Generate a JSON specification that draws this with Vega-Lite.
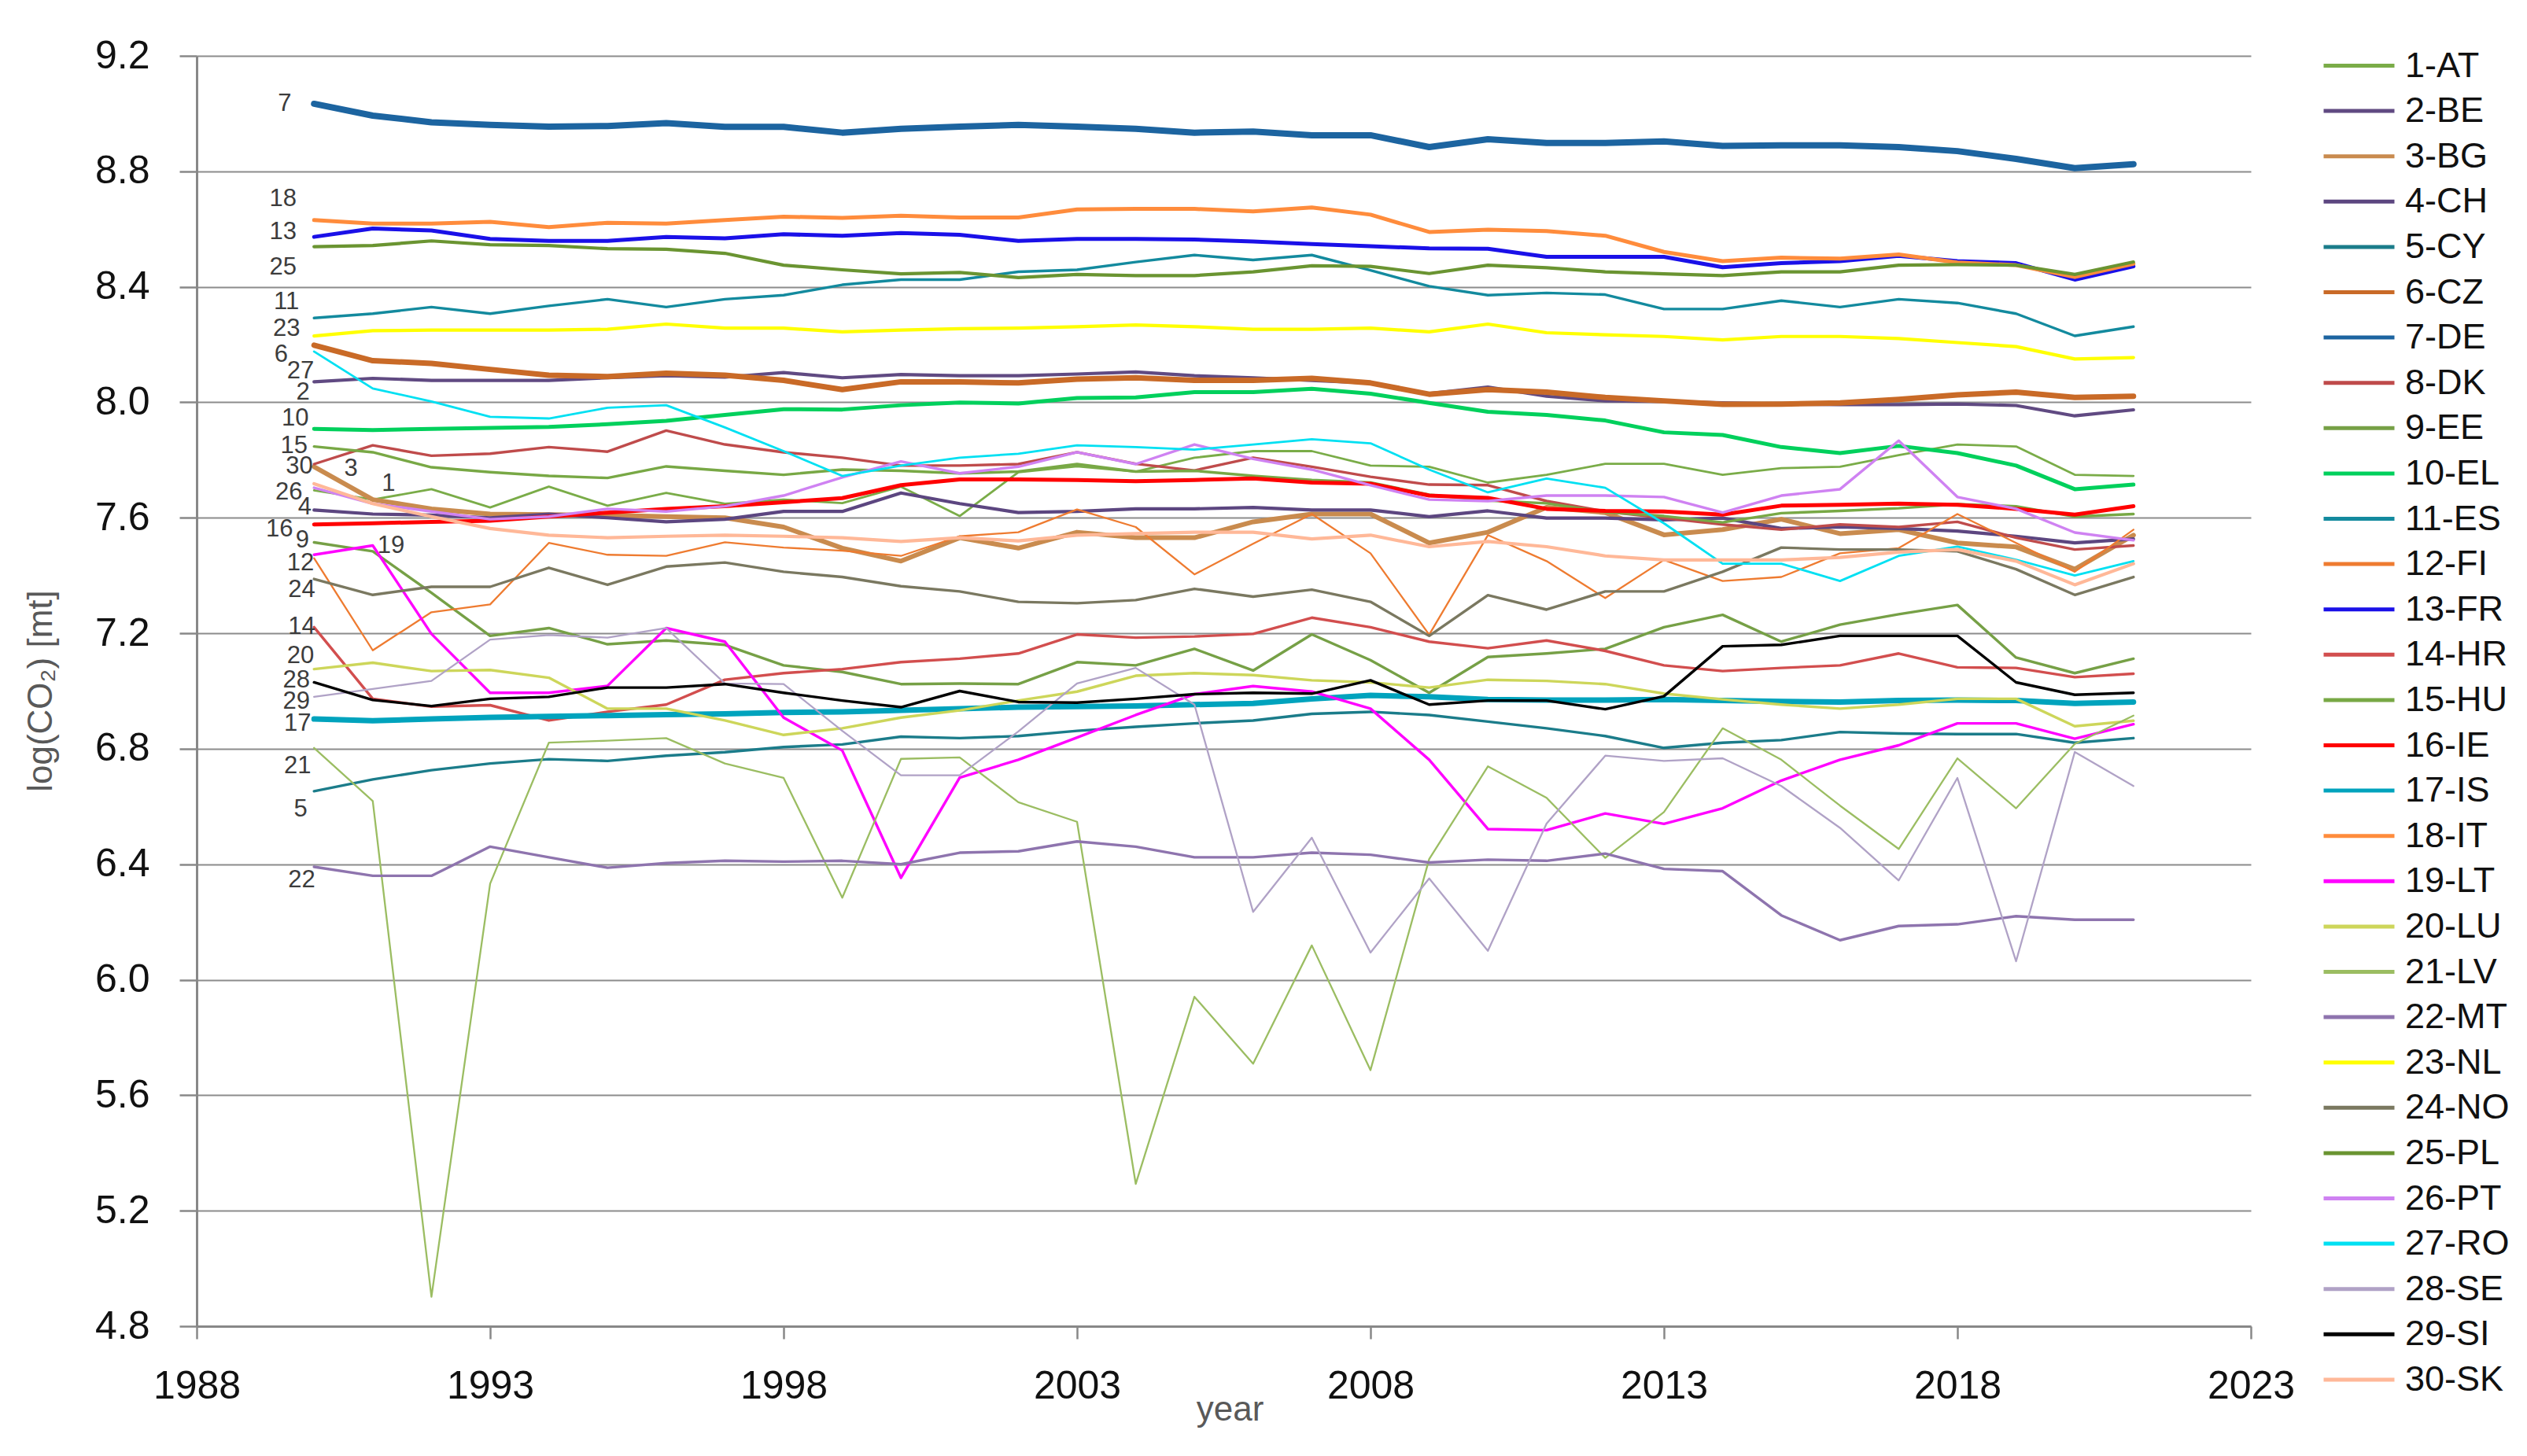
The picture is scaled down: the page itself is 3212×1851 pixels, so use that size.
{
"$schema":"https://vega.github.io/schema/vega-lite/v6.json",
"width":2611,"height":1615,
"autosize":{"type":"none"},
"padding":{"left":250,"top":71,"right":351,"bottom":165},
"background":"white",
"config":{"view":{"stroke":null}},
"layer":[
{
"data":{"values":[
{"s":"1-AT","yr":1990,"v":7.695},{"s":"1-AT","yr":1991,"v":7.663},{"s":"1-AT","yr":1992,"v":7.699},{"s":"1-AT","yr":1993,"v":7.636},{"s":"1-AT","yr":1994,"v":7.708},{"s":"1-AT","yr":1995,"v":7.642},{"s":"1-AT","yr":1996,"v":7.686},{"s":"1-AT","yr":1997,"v":7.649},{"s":"1-AT","yr":1998,"v":7.663},{"s":"1-AT","yr":1999,"v":7.651},{"s":"1-AT","yr":2000,"v":7.708},{"s":"1-AT","yr":2001,"v":7.606},{"s":"1-AT","yr":2002,"v":7.758},{"s":"1-AT","yr":2003,"v":7.778},{"s":"1-AT","yr":2004,"v":7.760},{"s":"1-AT","yr":2005,"v":7.808},{"s":"1-AT","yr":2006,"v":7.831},{"s":"1-AT","yr":2007,"v":7.831},{"s":"1-AT","yr":2008,"v":7.781},{"s":"1-AT","yr":2009,"v":7.777},{"s":"1-AT","yr":2010,"v":7.722},{"s":"1-AT","yr":2011,"v":7.749},{"s":"1-AT","yr":2012,"v":7.787},{"s":"1-AT","yr":2013,"v":7.787},{"s":"1-AT","yr":2014,"v":7.749},{"s":"1-AT","yr":2015,"v":7.772},{"s":"1-AT","yr":2016,"v":7.777},{"s":"1-AT","yr":2017,"v":7.817},{"s":"1-AT","yr":2018,"v":7.854},{"s":"1-AT","yr":2019,"v":7.847},{"s":"1-AT","yr":2020,"v":7.749},{"s":"1-AT","yr":2021,"v":7.745},
{"s":"2-BE","yr":1990,"v":8.071},{"s":"2-BE","yr":1991,"v":8.083},{"s":"2-BE","yr":1992,"v":8.076},{"s":"2-BE","yr":1993,"v":8.076},{"s":"2-BE","yr":1994,"v":8.076},{"s":"2-BE","yr":1995,"v":8.085},{"s":"2-BE","yr":1996,"v":8.092},{"s":"2-BE","yr":1997,"v":8.087},{"s":"2-BE","yr":1998,"v":8.103},{"s":"2-BE","yr":1999,"v":8.085},{"s":"2-BE","yr":2000,"v":8.096},{"s":"2-BE","yr":2001,"v":8.092},{"s":"2-BE","yr":2002,"v":8.092},{"s":"2-BE","yr":2003,"v":8.098},{"s":"2-BE","yr":2004,"v":8.105},{"s":"2-BE","yr":2005,"v":8.092},{"s":"2-BE","yr":2006,"v":8.085},{"s":"2-BE","yr":2007,"v":8.076},{"s":"2-BE","yr":2008,"v":8.067},{"s":"2-BE","yr":2009,"v":8.030},{"s":"2-BE","yr":2010,"v":8.053},{"s":"2-BE","yr":2011,"v":8.021},{"s":"2-BE","yr":2012,"v":8.005},{"s":"2-BE","yr":2013,"v":8.003},{"s":"2-BE","yr":2014,"v":7.998},{"s":"2-BE","yr":2015,"v":7.994},{"s":"2-BE","yr":2016,"v":7.992},{"s":"2-BE","yr":2017,"v":7.992},{"s":"2-BE","yr":2018,"v":7.994},{"s":"2-BE","yr":2019,"v":7.989},{"s":"2-BE","yr":2020,"v":7.953},{"s":"2-BE","yr":2021,"v":7.974},
{"s":"3-BG","yr":1990,"v":7.777},{"s":"3-BG","yr":1991,"v":7.663},{"s":"3-BG","yr":1992,"v":7.631},{"s":"3-BG","yr":1993,"v":7.613},{"s":"3-BG","yr":1994,"v":7.611},{"s":"3-BG","yr":1995,"v":7.609},{"s":"3-BG","yr":1996,"v":7.604},{"s":"3-BG","yr":1997,"v":7.600},{"s":"3-BG","yr":1998,"v":7.568},{"s":"3-BG","yr":1999,"v":7.495},{"s":"3-BG","yr":2000,"v":7.450},{"s":"3-BG","yr":2001,"v":7.531},{"s":"3-BG","yr":2002,"v":7.495},{"s":"3-BG","yr":2003,"v":7.550},{"s":"3-BG","yr":2004,"v":7.531},{"s":"3-BG","yr":2005,"v":7.531},{"s":"3-BG","yr":2006,"v":7.586},{"s":"3-BG","yr":2007,"v":7.613},{"s":"3-BG","yr":2008,"v":7.613},{"s":"3-BG","yr":2009,"v":7.513},{"s":"3-BG","yr":2010,"v":7.550},{"s":"3-BG","yr":2011,"v":7.636},{"s":"3-BG","yr":2012,"v":7.618},{"s":"3-BG","yr":2013,"v":7.541},{"s":"3-BG","yr":2014,"v":7.559},{"s":"3-BG","yr":2015,"v":7.595},{"s":"3-BG","yr":2016,"v":7.545},{"s":"3-BG","yr":2017,"v":7.559},{"s":"3-BG","yr":2018,"v":7.513},{"s":"3-BG","yr":2019,"v":7.499},{"s":"3-BG","yr":2020,"v":7.422},{"s":"3-BG","yr":2021,"v":7.540},
{"s":"4-CH","yr":1990,"v":7.627},{"s":"4-CH","yr":1991,"v":7.613},{"s":"4-CH","yr":1992,"v":7.609},{"s":"4-CH","yr":1993,"v":7.600},{"s":"4-CH","yr":1994,"v":7.613},{"s":"4-CH","yr":1995,"v":7.600},{"s":"4-CH","yr":1996,"v":7.586},{"s":"4-CH","yr":1997,"v":7.595},{"s":"4-CH","yr":1998,"v":7.622},{"s":"4-CH","yr":1999,"v":7.622},{"s":"4-CH","yr":2000,"v":7.686},{"s":"4-CH","yr":2001,"v":7.649},{"s":"4-CH","yr":2002,"v":7.618},{"s":"4-CH","yr":2003,"v":7.622},{"s":"4-CH","yr":2004,"v":7.631},{"s":"4-CH","yr":2005,"v":7.631},{"s":"4-CH","yr":2006,"v":7.636},{"s":"4-CH","yr":2007,"v":7.627},{"s":"4-CH","yr":2008,"v":7.627},{"s":"4-CH","yr":2009,"v":7.604},{"s":"4-CH","yr":2010,"v":7.624},{"s":"4-CH","yr":2011,"v":7.599},{"s":"4-CH","yr":2012,"v":7.599},{"s":"4-CH","yr":2013,"v":7.593},{"s":"4-CH","yr":2014,"v":7.599},{"s":"4-CH","yr":2015,"v":7.563},{"s":"4-CH","yr":2016,"v":7.568},{"s":"4-CH","yr":2017,"v":7.563},{"s":"4-CH","yr":2018,"v":7.554},{"s":"4-CH","yr":2019,"v":7.536},{"s":"4-CH","yr":2020,"v":7.513},{"s":"4-CH","yr":2021,"v":7.527},
{"s":"5-CY","yr":1990,"v":6.653},{"s":"5-CY","yr":1991,"v":6.694},{"s":"5-CY","yr":1992,"v":6.726},{"s":"5-CY","yr":1993,"v":6.749},{"s":"5-CY","yr":1994,"v":6.764},{"s":"5-CY","yr":1995,"v":6.758},{"s":"5-CY","yr":1996,"v":6.776},{"s":"5-CY","yr":1997,"v":6.788},{"s":"5-CY","yr":1998,"v":6.806},{"s":"5-CY","yr":1999,"v":6.815},{"s":"5-CY","yr":2000,"v":6.842},{"s":"5-CY","yr":2001,"v":6.837},{"s":"5-CY","yr":2002,"v":6.844},{"s":"5-CY","yr":2003,"v":6.862},{"s":"5-CY","yr":2004,"v":6.876},{"s":"5-CY","yr":2005,"v":6.888},{"s":"5-CY","yr":2006,"v":6.898},{"s":"5-CY","yr":2007,"v":6.921},{"s":"5-CY","yr":2008,"v":6.928},{"s":"5-CY","yr":2009,"v":6.917},{"s":"5-CY","yr":2010,"v":6.894},{"s":"5-CY","yr":2011,"v":6.871},{"s":"5-CY","yr":2012,"v":6.844},{"s":"5-CY","yr":2013,"v":6.803},{"s":"5-CY","yr":2014,"v":6.821},{"s":"5-CY","yr":2015,"v":6.830},{"s":"5-CY","yr":2016,"v":6.858},{"s":"5-CY","yr":2017,"v":6.853},{"s":"5-CY","yr":2018,"v":6.851},{"s":"5-CY","yr":2019,"v":6.851},{"s":"5-CY","yr":2020,"v":6.821},{"s":"5-CY","yr":2021,"v":6.837},
{"s":"6-CZ","yr":1990,"v":8.198},{"s":"6-CZ","yr":1991,"v":8.144},{"s":"6-CZ","yr":1992,"v":8.135},{"s":"6-CZ","yr":1993,"v":8.114},{"s":"6-CZ","yr":1994,"v":8.094},{"s":"6-CZ","yr":1995,"v":8.089},{"s":"6-CZ","yr":1996,"v":8.101},{"s":"6-CZ","yr":1997,"v":8.094},{"s":"6-CZ","yr":1998,"v":8.076},{"s":"6-CZ","yr":1999,"v":8.044},{"s":"6-CZ","yr":2000,"v":8.071},{"s":"6-CZ","yr":2001,"v":8.071},{"s":"6-CZ","yr":2002,"v":8.067},{"s":"6-CZ","yr":2003,"v":8.080},{"s":"6-CZ","yr":2004,"v":8.085},{"s":"6-CZ","yr":2005,"v":8.076},{"s":"6-CZ","yr":2006,"v":8.076},{"s":"6-CZ","yr":2007,"v":8.083},{"s":"6-CZ","yr":2008,"v":8.067},{"s":"6-CZ","yr":2009,"v":8.028},{"s":"6-CZ","yr":2010,"v":8.044},{"s":"6-CZ","yr":2011,"v":8.035},{"s":"6-CZ","yr":2012,"v":8.017},{"s":"6-CZ","yr":2013,"v":8.005},{"s":"6-CZ","yr":2014,"v":7.993},{"s":"6-CZ","yr":2015,"v":7.994},{"s":"6-CZ","yr":2016,"v":7.998},{"s":"6-CZ","yr":2017,"v":8.010},{"s":"6-CZ","yr":2018,"v":8.026},{"s":"6-CZ","yr":2019,"v":8.035},{"s":"6-CZ","yr":2020,"v":8.017},{"s":"6-CZ","yr":2021,"v":8.021},
{"s":"7-DE","yr":1990,"v":9.034},{"s":"7-DE","yr":1991,"v":8.993},{"s":"7-DE","yr":1992,"v":8.970},{"s":"7-DE","yr":1993,"v":8.961},{"s":"7-DE","yr":1994,"v":8.955},{"s":"7-DE","yr":1995,"v":8.957},{"s":"7-DE","yr":1996,"v":8.967},{"s":"7-DE","yr":1997,"v":8.954},{"s":"7-DE","yr":1998,"v":8.954},{"s":"7-DE","yr":1999,"v":8.934},{"s":"7-DE","yr":2000,"v":8.947},{"s":"7-DE","yr":2001,"v":8.955},{"s":"7-DE","yr":2002,"v":8.961},{"s":"7-DE","yr":2003,"v":8.955},{"s":"7-DE","yr":2004,"v":8.947},{"s":"7-DE","yr":2005,"v":8.934},{"s":"7-DE","yr":2006,"v":8.938},{"s":"7-DE","yr":2007,"v":8.925},{"s":"7-DE","yr":2008,"v":8.925},{"s":"7-DE","yr":2009,"v":8.884},{"s":"7-DE","yr":2010,"v":8.911},{"s":"7-DE","yr":2011,"v":8.898},{"s":"7-DE","yr":2012,"v":8.898},{"s":"7-DE","yr":2013,"v":8.904},{"s":"7-DE","yr":2014,"v":8.888},{"s":"7-DE","yr":2015,"v":8.890},{"s":"7-DE","yr":2016,"v":8.890},{"s":"7-DE","yr":2017,"v":8.884},{"s":"7-DE","yr":2018,"v":8.870},{"s":"7-DE","yr":2019,"v":8.843},{"s":"7-DE","yr":2020,"v":8.811},{"s":"7-DE","yr":2021,"v":8.825},
{"s":"8-DK","yr":1990,"v":7.786},{"s":"8-DK","yr":1991,"v":7.851},{"s":"8-DK","yr":1992,"v":7.815},{"s":"8-DK","yr":1993,"v":7.822},{"s":"8-DK","yr":1994,"v":7.845},{"s":"8-DK","yr":1995,"v":7.829},{"s":"8-DK","yr":1996,"v":7.902},{"s":"8-DK","yr":1997,"v":7.854},{"s":"8-DK","yr":1998,"v":7.827},{"s":"8-DK","yr":1999,"v":7.808},{"s":"8-DK","yr":2000,"v":7.781},{"s":"8-DK","yr":2001,"v":7.781},{"s":"8-DK","yr":2002,"v":7.786},{"s":"8-DK","yr":2003,"v":7.827},{"s":"8-DK","yr":2004,"v":7.787},{"s":"8-DK","yr":2005,"v":7.764},{"s":"8-DK","yr":2006,"v":7.808},{"s":"8-DK","yr":2007,"v":7.777},{"s":"8-DK","yr":2008,"v":7.742},{"s":"8-DK","yr":2009,"v":7.715},{"s":"8-DK","yr":2010,"v":7.713},{"s":"8-DK","yr":2011,"v":7.658},{"s":"8-DK","yr":2012,"v":7.622},{"s":"8-DK","yr":2013,"v":7.599},{"s":"8-DK","yr":2014,"v":7.577},{"s":"8-DK","yr":2015,"v":7.559},{"s":"8-DK","yr":2016,"v":7.577},{"s":"8-DK","yr":2017,"v":7.568},{"s":"8-DK","yr":2018,"v":7.586},{"s":"8-DK","yr":2019,"v":7.531},{"s":"8-DK","yr":2020,"v":7.490},{"s":"8-DK","yr":2021,"v":7.504},
{"s":"9-EE","yr":1990,"v":7.515},{"s":"9-EE","yr":1991,"v":7.484},{"s":"9-EE","yr":1992,"v":7.340},{"s":"9-EE","yr":1993,"v":7.191},{"s":"9-EE","yr":1994,"v":7.218},{"s":"9-EE","yr":1995,"v":7.162},{"s":"9-EE","yr":1996,"v":7.175},{"s":"9-EE","yr":1997,"v":7.160},{"s":"9-EE","yr":1998,"v":7.089},{"s":"9-EE","yr":1999,"v":7.066},{"s":"9-EE","yr":2000,"v":7.024},{"s":"9-EE","yr":2001,"v":7.026},{"s":"9-EE","yr":2002,"v":7.024},{"s":"9-EE","yr":2003,"v":7.100},{"s":"9-EE","yr":2004,"v":7.089},{"s":"9-EE","yr":2005,"v":7.146},{"s":"9-EE","yr":2006,"v":7.071},{"s":"9-EE","yr":2007,"v":7.196},{"s":"9-EE","yr":2008,"v":7.107},{"s":"9-EE","yr":2009,"v":6.994},{"s":"9-EE","yr":2010,"v":7.118},{"s":"9-EE","yr":2011,"v":7.130},{"s":"9-EE","yr":2012,"v":7.146},{"s":"9-EE","yr":2013,"v":7.221},{"s":"9-EE","yr":2014,"v":7.264},{"s":"9-EE","yr":2015,"v":7.171},{"s":"9-EE","yr":2016,"v":7.230},{"s":"9-EE","yr":2017,"v":7.266},{"s":"9-EE","yr":2018,"v":7.298},{"s":"9-EE","yr":2019,"v":7.116},{"s":"9-EE","yr":2020,"v":7.062},{"s":"9-EE","yr":2021,"v":7.112},
{"s":"10-EL","yr":1990,"v":7.908},{"s":"10-EL","yr":1991,"v":7.904},{"s":"10-EL","yr":1992,"v":7.908},{"s":"10-EL","yr":1993,"v":7.911},{"s":"10-EL","yr":1994,"v":7.915},{"s":"10-EL","yr":1995,"v":7.924},{"s":"10-EL","yr":1996,"v":7.936},{"s":"10-EL","yr":1997,"v":7.956},{"s":"10-EL","yr":1998,"v":7.976},{"s":"10-EL","yr":1999,"v":7.975},{"s":"10-EL","yr":2000,"v":7.990},{"s":"10-EL","yr":2001,"v":7.999},{"s":"10-EL","yr":2002,"v":7.996},{"s":"10-EL","yr":2003,"v":8.015},{"s":"10-EL","yr":2004,"v":8.017},{"s":"10-EL","yr":2005,"v":8.035},{"s":"10-EL","yr":2006,"v":8.035},{"s":"10-EL","yr":2007,"v":8.047},{"s":"10-EL","yr":2008,"v":8.030},{"s":"10-EL","yr":2009,"v":7.998},{"s":"10-EL","yr":2010,"v":7.967},{"s":"10-EL","yr":2011,"v":7.956},{"s":"10-EL","yr":2012,"v":7.937},{"s":"10-EL","yr":2013,"v":7.896},{"s":"10-EL","yr":2014,"v":7.887},{"s":"10-EL","yr":2015,"v":7.845},{"s":"10-EL","yr":2016,"v":7.824},{"s":"10-EL","yr":2017,"v":7.849},{"s":"10-EL","yr":2018,"v":7.824},{"s":"10-EL","yr":2019,"v":7.781},{"s":"10-EL","yr":2020,"v":7.699},{"s":"10-EL","yr":2021,"v":7.715},
{"s":"11-ES","yr":1990,"v":8.292},{"s":"11-ES","yr":1991,"v":8.307},{"s":"11-ES","yr":1992,"v":8.330},{"s":"11-ES","yr":1993,"v":8.307},{"s":"11-ES","yr":1994,"v":8.334},{"s":"11-ES","yr":1995,"v":8.357},{"s":"11-ES","yr":1996,"v":8.330},{"s":"11-ES","yr":1997,"v":8.357},{"s":"11-ES","yr":1998,"v":8.371},{"s":"11-ES","yr":1999,"v":8.407},{"s":"11-ES","yr":2000,"v":8.425},{"s":"11-ES","yr":2001,"v":8.425},{"s":"11-ES","yr":2002,"v":8.452},{"s":"11-ES","yr":2003,"v":8.459},{"s":"11-ES","yr":2004,"v":8.486},{"s":"11-ES","yr":2005,"v":8.510},{"s":"11-ES","yr":2006,"v":8.493},{"s":"11-ES","yr":2007,"v":8.510},{"s":"11-ES","yr":2008,"v":8.457},{"s":"11-ES","yr":2009,"v":8.402},{"s":"11-ES","yr":2010,"v":8.371},{"s":"11-ES","yr":2011,"v":8.379},{"s":"11-ES","yr":2012,"v":8.373},{"s":"11-ES","yr":2013,"v":8.323},{"s":"11-ES","yr":2014,"v":8.323},{"s":"11-ES","yr":2015,"v":8.352},{"s":"11-ES","yr":2016,"v":8.330},{"s":"11-ES","yr":2017,"v":8.357},{"s":"11-ES","yr":2018,"v":8.344},{"s":"11-ES","yr":2019,"v":8.307},{"s":"11-ES","yr":2020,"v":8.230},{"s":"11-ES","yr":2021,"v":8.262},
{"s":"12-FI","yr":1990,"v":7.460},{"s":"12-FI","yr":1991,"v":7.141},{"s":"12-FI","yr":1992,"v":7.273},{"s":"12-FI","yr":1993,"v":7.300},{"s":"12-FI","yr":1994,"v":7.513},{"s":"12-FI","yr":1995,"v":7.472},{"s":"12-FI","yr":1996,"v":7.468},{"s":"12-FI","yr":1997,"v":7.515},{"s":"12-FI","yr":1998,"v":7.497},{"s":"12-FI","yr":1999,"v":7.486},{"s":"12-FI","yr":2000,"v":7.468},{"s":"12-FI","yr":2001,"v":7.536},{"s":"12-FI","yr":2002,"v":7.550},{"s":"12-FI","yr":2003,"v":7.629},{"s":"12-FI","yr":2004,"v":7.568},{"s":"12-FI","yr":2005,"v":7.404},{"s":"12-FI","yr":2006,"v":7.510},{"s":"12-FI","yr":2007,"v":7.613},{"s":"12-FI","yr":2008,"v":7.477},{"s":"12-FI","yr":2009,"v":7.195},{"s":"12-FI","yr":2010,"v":7.540},{"s":"12-FI","yr":2011,"v":7.450},{"s":"12-FI","yr":2012,"v":7.322},{"s":"12-FI","yr":2013,"v":7.454},{"s":"12-FI","yr":2014,"v":7.381},{"s":"12-FI","yr":2015,"v":7.395},{"s":"12-FI","yr":2016,"v":7.477},{"s":"12-FI","yr":2017,"v":7.495},{"s":"12-FI","yr":2018,"v":7.613},{"s":"12-FI","yr":2019,"v":7.513},{"s":"12-FI","yr":2020,"v":7.413},{"s":"12-FI","yr":2021,"v":7.559},
{"s":"13-FR","yr":1990,"v":8.573},{"s":"13-FR","yr":1991,"v":8.602},{"s":"13-FR","yr":1992,"v":8.595},{"s":"13-FR","yr":1993,"v":8.566},{"s":"13-FR","yr":1994,"v":8.559},{"s":"13-FR","yr":1995,"v":8.559},{"s":"13-FR","yr":1996,"v":8.573},{"s":"13-FR","yr":1997,"v":8.568},{"s":"13-FR","yr":1998,"v":8.582},{"s":"13-FR","yr":1999,"v":8.577},{"s":"13-FR","yr":2000,"v":8.586},{"s":"13-FR","yr":2001,"v":8.580},{"s":"13-FR","yr":2002,"v":8.559},{"s":"13-FR","yr":2003,"v":8.566},{"s":"13-FR","yr":2004,"v":8.566},{"s":"13-FR","yr":2005,"v":8.564},{"s":"13-FR","yr":2006,"v":8.557},{"s":"13-FR","yr":2007,"v":8.548},{"s":"13-FR","yr":2008,"v":8.541},{"s":"13-FR","yr":2009,"v":8.533},{"s":"13-FR","yr":2010,"v":8.532},{"s":"13-FR","yr":2011,"v":8.504},{"s":"13-FR","yr":2012,"v":8.504},{"s":"13-FR","yr":2013,"v":8.504},{"s":"13-FR","yr":2014,"v":8.468},{"s":"13-FR","yr":2015,"v":8.482},{"s":"13-FR","yr":2016,"v":8.489},{"s":"13-FR","yr":2017,"v":8.507},{"s":"13-FR","yr":2018,"v":8.489},{"s":"13-FR","yr":2019,"v":8.482},{"s":"13-FR","yr":2020,"v":8.425},{"s":"13-FR","yr":2021,"v":8.471},
{"s":"14-HR","yr":1990,"v":7.221},{"s":"14-HR","yr":1991,"v":6.973},{"s":"14-HR","yr":1992,"v":6.946},{"s":"14-HR","yr":1993,"v":6.951},{"s":"14-HR","yr":1994,"v":6.898},{"s":"14-HR","yr":1995,"v":6.928},{"s":"14-HR","yr":1996,"v":6.953},{"s":"14-HR","yr":1997,"v":7.039},{"s":"14-HR","yr":1998,"v":7.062},{"s":"14-HR","yr":1999,"v":7.076},{"s":"14-HR","yr":2000,"v":7.100},{"s":"14-HR","yr":2001,"v":7.112},{"s":"14-HR","yr":2002,"v":7.130},{"s":"14-HR","yr":2003,"v":7.196},{"s":"14-HR","yr":2004,"v":7.185},{"s":"14-HR","yr":2005,"v":7.189},{"s":"14-HR","yr":2006,"v":7.198},{"s":"14-HR","yr":2007,"v":7.254},{"s":"14-HR","yr":2008,"v":7.221},{"s":"14-HR","yr":2009,"v":7.171},{"s":"14-HR","yr":2010,"v":7.148},{"s":"14-HR","yr":2011,"v":7.175},{"s":"14-HR","yr":2012,"v":7.139},{"s":"14-HR","yr":2013,"v":7.089},{"s":"14-HR","yr":2014,"v":7.069},{"s":"14-HR","yr":2015,"v":7.080},{"s":"14-HR","yr":2016,"v":7.089},{"s":"14-HR","yr":2017,"v":7.130},{"s":"14-HR","yr":2018,"v":7.082},{"s":"14-HR","yr":2019,"v":7.080},{"s":"14-HR","yr":2020,"v":7.048},{"s":"14-HR","yr":2021,"v":7.060},
{"s":"15-HU","yr":1990,"v":7.847},{"s":"15-HU","yr":1991,"v":7.827},{"s":"15-HU","yr":1992,"v":7.775},{"s":"15-HU","yr":1993,"v":7.758},{"s":"15-HU","yr":1994,"v":7.745},{"s":"15-HU","yr":1995,"v":7.738},{"s":"15-HU","yr":1996,"v":7.778},{"s":"15-HU","yr":1997,"v":7.763},{"s":"15-HU","yr":1998,"v":7.749},{"s":"15-HU","yr":1999,"v":7.767},{"s":"15-HU","yr":2000,"v":7.763},{"s":"15-HU","yr":2001,"v":7.754},{"s":"15-HU","yr":2002,"v":7.760},{"s":"15-HU","yr":2003,"v":7.786},{"s":"15-HU","yr":2004,"v":7.760},{"s":"15-HU","yr":2005,"v":7.763},{"s":"15-HU","yr":2006,"v":7.745},{"s":"15-HU","yr":2007,"v":7.731},{"s":"15-HU","yr":2008,"v":7.722},{"s":"15-HU","yr":2009,"v":7.680},{"s":"15-HU","yr":2010,"v":7.660},{"s":"15-HU","yr":2011,"v":7.650},{"s":"15-HU","yr":2012,"v":7.620},{"s":"15-HU","yr":2013,"v":7.606},{"s":"15-HU","yr":2014,"v":7.584},{"s":"15-HU","yr":2015,"v":7.616},{"s":"15-HU","yr":2016,"v":7.624},{"s":"15-HU","yr":2017,"v":7.633},{"s":"15-HU","yr":2018,"v":7.647},{"s":"15-HU","yr":2019,"v":7.640},{"s":"15-HU","yr":2020,"v":7.604},{"s":"15-HU","yr":2021,"v":7.613},
{"s":"16-IE","yr":1990,"v":7.577},{"s":"16-IE","yr":1991,"v":7.581},{"s":"16-IE","yr":1992,"v":7.586},{"s":"16-IE","yr":1993,"v":7.590},{"s":"16-IE","yr":1994,"v":7.604},{"s":"16-IE","yr":1995,"v":7.618},{"s":"16-IE","yr":1996,"v":7.631},{"s":"16-IE","yr":1997,"v":7.640},{"s":"16-IE","yr":1998,"v":7.654},{"s":"16-IE","yr":1999,"v":7.668},{"s":"16-IE","yr":2000,"v":7.713},{"s":"16-IE","yr":2001,"v":7.733},{"s":"16-IE","yr":2002,"v":7.733},{"s":"16-IE","yr":2003,"v":7.731},{"s":"16-IE","yr":2004,"v":7.727},{"s":"16-IE","yr":2005,"v":7.731},{"s":"16-IE","yr":2006,"v":7.736},{"s":"16-IE","yr":2007,"v":7.722},{"s":"16-IE","yr":2008,"v":7.718},{"s":"16-IE","yr":2009,"v":7.677},{"s":"16-IE","yr":2010,"v":7.669},{"s":"16-IE","yr":2011,"v":7.631},{"s":"16-IE","yr":2012,"v":7.624},{"s":"16-IE","yr":2013,"v":7.622},{"s":"16-IE","yr":2014,"v":7.611},{"s":"16-IE","yr":2015,"v":7.642},{"s":"16-IE","yr":2016,"v":7.645},{"s":"16-IE","yr":2017,"v":7.649},{"s":"16-IE","yr":2018,"v":7.645},{"s":"16-IE","yr":2019,"v":7.631},{"s":"16-IE","yr":2020,"v":7.611},{"s":"16-IE","yr":2021,"v":7.640},
{"s":"17-IS","yr":1990,"v":6.903},{"s":"17-IS","yr":1991,"v":6.897},{"s":"17-IS","yr":1992,"v":6.903},{"s":"17-IS","yr":1993,"v":6.909},{"s":"17-IS","yr":1994,"v":6.912},{"s":"17-IS","yr":1995,"v":6.915},{"s":"17-IS","yr":1996,"v":6.918},{"s":"17-IS","yr":1997,"v":6.921},{"s":"17-IS","yr":1998,"v":6.926},{"s":"17-IS","yr":1999,"v":6.928},{"s":"17-IS","yr":2000,"v":6.933},{"s":"17-IS","yr":2001,"v":6.939},{"s":"17-IS","yr":2002,"v":6.944},{"s":"17-IS","yr":2003,"v":6.946},{"s":"17-IS","yr":2004,"v":6.948},{"s":"17-IS","yr":2005,"v":6.953},{"s":"17-IS","yr":2006,"v":6.957},{"s":"17-IS","yr":2007,"v":6.973},{"s":"17-IS","yr":2008,"v":6.985},{"s":"17-IS","yr":2009,"v":6.980},{"s":"17-IS","yr":2010,"v":6.971},{"s":"17-IS","yr":2011,"v":6.969},{"s":"17-IS","yr":2012,"v":6.969},{"s":"17-IS","yr":2013,"v":6.971},{"s":"17-IS","yr":2014,"v":6.967},{"s":"17-IS","yr":2015,"v":6.964},{"s":"17-IS","yr":2016,"v":6.962},{"s":"17-IS","yr":2017,"v":6.967},{"s":"17-IS","yr":2018,"v":6.969},{"s":"17-IS","yr":2019,"v":6.967},{"s":"17-IS","yr":2020,"v":6.957},{"s":"17-IS","yr":2021,"v":6.962},
{"s":"18-IT","yr":1990,"v":8.631},{"s":"18-IT","yr":1991,"v":8.619},{"s":"18-IT","yr":1992,"v":8.619},{"s":"18-IT","yr":1993,"v":8.625},{"s":"18-IT","yr":1994,"v":8.607},{"s":"18-IT","yr":1995,"v":8.622},{"s":"18-IT","yr":1996,"v":8.619},{"s":"18-IT","yr":1997,"v":8.631},{"s":"18-IT","yr":1998,"v":8.643},{"s":"18-IT","yr":1999,"v":8.639},{"s":"18-IT","yr":2000,"v":8.646},{"s":"18-IT","yr":2001,"v":8.640},{"s":"18-IT","yr":2002,"v":8.640},{"s":"18-IT","yr":2003,"v":8.668},{"s":"18-IT","yr":2004,"v":8.670},{"s":"18-IT","yr":2005,"v":8.670},{"s":"18-IT","yr":2006,"v":8.661},{"s":"18-IT","yr":2007,"v":8.675},{"s":"18-IT","yr":2008,"v":8.650},{"s":"18-IT","yr":2009,"v":8.590},{"s":"18-IT","yr":2010,"v":8.598},{"s":"18-IT","yr":2011,"v":8.593},{"s":"18-IT","yr":2012,"v":8.577},{"s":"18-IT","yr":2013,"v":8.521},{"s":"18-IT","yr":2014,"v":8.489},{"s":"18-IT","yr":2015,"v":8.501},{"s":"18-IT","yr":2016,"v":8.498},{"s":"18-IT","yr":2017,"v":8.512},{"s":"18-IT","yr":2018,"v":8.484},{"s":"18-IT","yr":2019,"v":8.475},{"s":"18-IT","yr":2020,"v":8.434},{"s":"18-IT","yr":2021,"v":8.480},
{"s":"19-LT","yr":1990,"v":7.472},{"s":"19-LT","yr":1991,"v":7.504},{"s":"19-LT","yr":1992,"v":7.198},{"s":"19-LT","yr":1993,"v":6.994},{"s":"19-LT","yr":1994,"v":6.994},{"s":"19-LT","yr":1995,"v":7.018},{"s":"19-LT","yr":1996,"v":7.218},{"s":"19-LT","yr":1997,"v":7.171},{"s":"19-LT","yr":1998,"v":6.908},{"s":"19-LT","yr":1999,"v":6.794},{"s":"19-LT","yr":2000,"v":6.353},{"s":"19-LT","yr":2001,"v":6.700},{"s":"19-LT","yr":2002,"v":6.762},{"s":"19-LT","yr":2003,"v":6.839},{"s":"19-LT","yr":2004,"v":6.917},{"s":"19-LT","yr":2005,"v":6.989},{"s":"19-LT","yr":2006,"v":7.017},{"s":"19-LT","yr":2007,"v":6.998},{"s":"19-LT","yr":2008,"v":6.939},{"s":"19-LT","yr":2009,"v":6.762},{"s":"19-LT","yr":2010,"v":6.522},{"s":"19-LT","yr":2011,"v":6.518},{"s":"19-LT","yr":2012,"v":6.576},{"s":"19-LT","yr":2013,"v":6.540},{"s":"19-LT","yr":2014,"v":6.594},{"s":"19-LT","yr":2015,"v":6.690},{"s":"19-LT","yr":2016,"v":6.762},{"s":"19-LT","yr":2017,"v":6.812},{"s":"19-LT","yr":2018,"v":6.888},{"s":"19-LT","yr":2019,"v":6.888},{"s":"19-LT","yr":2020,"v":6.835},{"s":"19-LT","yr":2021,"v":6.885},
{"s":"20-LU","yr":1990,"v":7.076},{"s":"20-LU","yr":1991,"v":7.098},{"s":"20-LU","yr":1992,"v":7.069},{"s":"20-LU","yr":1993,"v":7.073},{"s":"20-LU","yr":1994,"v":7.046},{"s":"20-LU","yr":1995,"v":6.939},{"s":"20-LU","yr":1996,"v":6.939},{"s":"20-LU","yr":1997,"v":6.898},{"s":"20-LU","yr":1998,"v":6.848},{"s":"20-LU","yr":1999,"v":6.871},{"s":"20-LU","yr":2000,"v":6.908},{"s":"20-LU","yr":2001,"v":6.933},{"s":"20-LU","yr":2002,"v":6.967},{"s":"20-LU","yr":2003,"v":6.998},{"s":"20-LU","yr":2004,"v":7.053},{"s":"20-LU","yr":2005,"v":7.062},{"s":"20-LU","yr":2006,"v":7.055},{"s":"20-LU","yr":2007,"v":7.037},{"s":"20-LU","yr":2008,"v":7.030},{"s":"20-LU","yr":2009,"v":7.012},{"s":"20-LU","yr":2010,"v":7.039},{"s":"20-LU","yr":2011,"v":7.035},{"s":"20-LU","yr":2012,"v":7.024},{"s":"20-LU","yr":2013,"v":6.991},{"s":"20-LU","yr":2014,"v":6.971},{"s":"20-LU","yr":2015,"v":6.953},{"s":"20-LU","yr":2016,"v":6.939},{"s":"20-LU","yr":2017,"v":6.953},{"s":"20-LU","yr":2018,"v":6.973},{"s":"20-LU","yr":2019,"v":6.973},{"s":"20-LU","yr":2020,"v":6.878},{"s":"20-LU","yr":2021,"v":6.897},
{"s":"21-LV","yr":1990,"v":6.803},{"s":"21-LV","yr":1991,"v":6.619},{"s":"21-LV","yr":1992,"v":4.902},{"s":"21-LV","yr":1993,"v":6.333},{"s":"21-LV","yr":1994,"v":6.821},{"s":"21-LV","yr":1995,"v":6.828},{"s":"21-LV","yr":1996,"v":6.837},{"s":"21-LV","yr":1997,"v":6.749},{"s":"21-LV","yr":1998,"v":6.699},{"s":"21-LV","yr":1999,"v":6.284},{"s":"21-LV","yr":2000,"v":6.765},{"s":"21-LV","yr":2001,"v":6.770},{"s":"21-LV","yr":2002,"v":6.615},{"s":"21-LV","yr":2003,"v":6.547},{"s":"21-LV","yr":2004,"v":5.293},{"s":"21-LV","yr":2005,"v":5.941},{"s":"21-LV","yr":2006,"v":5.709},{"s":"21-LV","yr":2007,"v":6.119},{"s":"21-LV","yr":2008,"v":5.687},{"s":"21-LV","yr":2009,"v":6.418},{"s":"21-LV","yr":2010,"v":6.739},{"s":"21-LV","yr":2011,"v":6.630},{"s":"21-LV","yr":2012,"v":6.422},{"s":"21-LV","yr":2013,"v":6.581},{"s":"21-LV","yr":2014,"v":6.871},{"s":"21-LV","yr":2015,"v":6.762},{"s":"21-LV","yr":2016,"v":6.603},{"s":"21-LV","yr":2017,"v":6.453},{"s":"21-LV","yr":2018,"v":6.767},{"s":"21-LV","yr":2019,"v":6.594},{"s":"21-LV","yr":2020,"v":6.817},{"s":"21-LV","yr":2021,"v":6.915},
{"s":"22-MT","yr":1990,"v":6.391},{"s":"22-MT","yr":1991,"v":6.360},{"s":"22-MT","yr":1992,"v":6.360},{"s":"22-MT","yr":1993,"v":6.461},{"s":"22-MT","yr":1994,"v":6.424},{"s":"22-MT","yr":1995,"v":6.388},{"s":"22-MT","yr":1996,"v":6.404},{"s":"22-MT","yr":1997,"v":6.412},{"s":"22-MT","yr":1998,"v":6.409},{"s":"22-MT","yr":1999,"v":6.412},{"s":"22-MT","yr":2000,"v":6.400},{"s":"22-MT","yr":2001,"v":6.440},{"s":"22-MT","yr":2002,"v":6.445},{"s":"22-MT","yr":2003,"v":6.479},{"s":"22-MT","yr":2004,"v":6.461},{"s":"22-MT","yr":2005,"v":6.424},{"s":"22-MT","yr":2006,"v":6.424},{"s":"22-MT","yr":2007,"v":6.440},{"s":"22-MT","yr":2008,"v":6.433},{"s":"22-MT","yr":2009,"v":6.406},{"s":"22-MT","yr":2010,"v":6.416},{"s":"22-MT","yr":2011,"v":6.412},{"s":"22-MT","yr":2012,"v":6.437},{"s":"22-MT","yr":2013,"v":6.384},{"s":"22-MT","yr":2014,"v":6.376},{"s":"22-MT","yr":2015,"v":6.223},{"s":"22-MT","yr":2016,"v":6.137},{"s":"22-MT","yr":2017,"v":6.186},{"s":"22-MT","yr":2018,"v":6.192},{"s":"22-MT","yr":2019,"v":6.220},{"s":"22-MT","yr":2020,"v":6.208},{"s":"22-MT","yr":2021,"v":6.208},
{"s":"23-NL","yr":1990,"v":8.230},{"s":"23-NL","yr":1991,"v":8.248},{"s":"23-NL","yr":1992,"v":8.250},{"s":"23-NL","yr":1993,"v":8.250},{"s":"23-NL","yr":1994,"v":8.250},{"s":"23-NL","yr":1995,"v":8.253},{"s":"23-NL","yr":1996,"v":8.271},{"s":"23-NL","yr":1997,"v":8.257},{"s":"23-NL","yr":1998,"v":8.257},{"s":"23-NL","yr":1999,"v":8.244},{"s":"23-NL","yr":2000,"v":8.250},{"s":"23-NL","yr":2001,"v":8.255},{"s":"23-NL","yr":2002,"v":8.257},{"s":"23-NL","yr":2003,"v":8.262},{"s":"23-NL","yr":2004,"v":8.268},{"s":"23-NL","yr":2005,"v":8.262},{"s":"23-NL","yr":2006,"v":8.253},{"s":"23-NL","yr":2007,"v":8.253},{"s":"23-NL","yr":2008,"v":8.257},{"s":"23-NL","yr":2009,"v":8.244},{"s":"23-NL","yr":2010,"v":8.271},{"s":"23-NL","yr":2011,"v":8.241},{"s":"23-NL","yr":2012,"v":8.234},{"s":"23-NL","yr":2013,"v":8.228},{"s":"23-NL","yr":2014,"v":8.216},{"s":"23-NL","yr":2015,"v":8.228},{"s":"23-NL","yr":2016,"v":8.228},{"s":"23-NL","yr":2017,"v":8.221},{"s":"23-NL","yr":2018,"v":8.207},{"s":"23-NL","yr":2019,"v":8.193},{"s":"23-NL","yr":2020,"v":8.150},{"s":"23-NL","yr":2021,"v":8.155},
{"s":"24-NO","yr":1990,"v":7.388},{"s":"24-NO","yr":1991,"v":7.333},{"s":"24-NO","yr":1992,"v":7.361},{"s":"24-NO","yr":1993,"v":7.361},{"s":"24-NO","yr":1994,"v":7.427},{"s":"24-NO","yr":1995,"v":7.368},{"s":"24-NO","yr":1996,"v":7.431},{"s":"24-NO","yr":1997,"v":7.445},{"s":"24-NO","yr":1998,"v":7.413},{"s":"24-NO","yr":1999,"v":7.395},{"s":"24-NO","yr":2000,"v":7.363},{"s":"24-NO","yr":2001,"v":7.345},{"s":"24-NO","yr":2002,"v":7.309},{"s":"24-NO","yr":2003,"v":7.304},{"s":"24-NO","yr":2004,"v":7.315},{"s":"24-NO","yr":2005,"v":7.354},{"s":"24-NO","yr":2006,"v":7.327},{"s":"24-NO","yr":2007,"v":7.351},{"s":"24-NO","yr":2008,"v":7.309},{"s":"24-NO","yr":2009,"v":7.191},{"s":"24-NO","yr":2010,"v":7.332},{"s":"24-NO","yr":2011,"v":7.282},{"s":"24-NO","yr":2012,"v":7.345},{"s":"24-NO","yr":2013,"v":7.345},{"s":"24-NO","yr":2014,"v":7.413},{"s":"24-NO","yr":2015,"v":7.497},{"s":"24-NO","yr":2016,"v":7.490},{"s":"24-NO","yr":2017,"v":7.490},{"s":"24-NO","yr":2018,"v":7.484},{"s":"24-NO","yr":2019,"v":7.422},{"s":"24-NO","yr":2020,"v":7.333},{"s":"24-NO","yr":2021,"v":7.395},
{"s":"25-PL","yr":1990,"v":8.539},{"s":"25-PL","yr":1991,"v":8.543},{"s":"25-PL","yr":1992,"v":8.559},{"s":"25-PL","yr":1993,"v":8.546},{"s":"25-PL","yr":1994,"v":8.543},{"s":"25-PL","yr":1995,"v":8.532},{"s":"25-PL","yr":1996,"v":8.530},{"s":"25-PL","yr":1997,"v":8.516},{"s":"25-PL","yr":1998,"v":8.475},{"s":"25-PL","yr":1999,"v":8.459},{"s":"25-PL","yr":2000,"v":8.445},{"s":"25-PL","yr":2001,"v":8.450},{"s":"25-PL","yr":2002,"v":8.432},{"s":"25-PL","yr":2003,"v":8.443},{"s":"25-PL","yr":2004,"v":8.439},{"s":"25-PL","yr":2005,"v":8.439},{"s":"25-PL","yr":2006,"v":8.452},{"s":"25-PL","yr":2007,"v":8.473},{"s":"25-PL","yr":2008,"v":8.471},{"s":"25-PL","yr":2009,"v":8.446},{"s":"25-PL","yr":2010,"v":8.475},{"s":"25-PL","yr":2011,"v":8.466},{"s":"25-PL","yr":2012,"v":8.452},{"s":"25-PL","yr":2013,"v":8.445},{"s":"25-PL","yr":2014,"v":8.439},{"s":"25-PL","yr":2015,"v":8.452},{"s":"25-PL","yr":2016,"v":8.452},{"s":"25-PL","yr":2017,"v":8.475},{"s":"25-PL","yr":2018,"v":8.477},{"s":"25-PL","yr":2019,"v":8.475},{"s":"25-PL","yr":2020,"v":8.443},{"s":"25-PL","yr":2021,"v":8.486},
{"s":"26-PT","yr":1990,"v":7.704},{"s":"26-PT","yr":1991,"v":7.649},{"s":"26-PT","yr":1992,"v":7.622},{"s":"26-PT","yr":1993,"v":7.595},{"s":"26-PT","yr":1994,"v":7.604},{"s":"26-PT","yr":1995,"v":7.631},{"s":"26-PT","yr":1996,"v":7.622},{"s":"26-PT","yr":1997,"v":7.640},{"s":"26-PT","yr":1998,"v":7.677},{"s":"26-PT","yr":1999,"v":7.740},{"s":"26-PT","yr":2000,"v":7.795},{"s":"26-PT","yr":2001,"v":7.754},{"s":"26-PT","yr":2002,"v":7.777},{"s":"26-PT","yr":2003,"v":7.827},{"s":"26-PT","yr":2004,"v":7.786},{"s":"26-PT","yr":2005,"v":7.854},{"s":"26-PT","yr":2006,"v":7.804},{"s":"26-PT","yr":2007,"v":7.767},{"s":"26-PT","yr":2008,"v":7.713},{"s":"26-PT","yr":2009,"v":7.663},{"s":"26-PT","yr":2010,"v":7.658},{"s":"26-PT","yr":2011,"v":7.677},{"s":"26-PT","yr":2012,"v":7.677},{"s":"26-PT","yr":2013,"v":7.672},{"s":"26-PT","yr":2014,"v":7.618},{"s":"26-PT","yr":2015,"v":7.677},{"s":"26-PT","yr":2016,"v":7.699},{"s":"26-PT","yr":2017,"v":7.867},{"s":"26-PT","yr":2018,"v":7.672},{"s":"26-PT","yr":2019,"v":7.631},{"s":"26-PT","yr":2020,"v":7.549},{"s":"26-PT","yr":2021,"v":7.522},
{"s":"27-RO","yr":1990,"v":8.176},{"s":"27-RO","yr":1991,"v":8.048},{"s":"27-RO","yr":1992,"v":8.003},{"s":"27-RO","yr":1993,"v":7.950},{"s":"27-RO","yr":1994,"v":7.944},{"s":"27-RO","yr":1995,"v":7.981},{"s":"27-RO","yr":1996,"v":7.990},{"s":"27-RO","yr":1997,"v":7.913},{"s":"27-RO","yr":1998,"v":7.831},{"s":"27-RO","yr":1999,"v":7.745},{"s":"27-RO","yr":2000,"v":7.781},{"s":"27-RO","yr":2001,"v":7.808},{"s":"27-RO","yr":2002,"v":7.822},{"s":"27-RO","yr":2003,"v":7.851},{"s":"27-RO","yr":2004,"v":7.845},{"s":"27-RO","yr":2005,"v":7.836},{"s":"27-RO","yr":2006,"v":7.854},{"s":"27-RO","yr":2007,"v":7.872},{"s":"27-RO","yr":2008,"v":7.858},{"s":"27-RO","yr":2009,"v":7.767},{"s":"27-RO","yr":2010,"v":7.688},{"s":"27-RO","yr":2011,"v":7.736},{"s":"27-RO","yr":2012,"v":7.704},{"s":"27-RO","yr":2013,"v":7.581},{"s":"27-RO","yr":2014,"v":7.441},{"s":"27-RO","yr":2015,"v":7.441},{"s":"27-RO","yr":2016,"v":7.381},{"s":"27-RO","yr":2017,"v":7.468},{"s":"27-RO","yr":2018,"v":7.500},{"s":"27-RO","yr":2019,"v":7.455},{"s":"27-RO","yr":2020,"v":7.400},{"s":"27-RO","yr":2021,"v":7.450},
{"s":"28-SE","yr":1990,"v":6.980},{"s":"28-SE","yr":1991,"v":7.007},{"s":"28-SE","yr":1992,"v":7.035},{"s":"28-SE","yr":1993,"v":7.178},{"s":"28-SE","yr":1994,"v":7.194},{"s":"28-SE","yr":1995,"v":7.185},{"s":"28-SE","yr":1996,"v":7.218},{"s":"28-SE","yr":1997,"v":7.026},{"s":"28-SE","yr":1998,"v":7.024},{"s":"28-SE","yr":1999,"v":6.862},{"s":"28-SE","yr":2000,"v":6.708},{"s":"28-SE","yr":2001,"v":6.708},{"s":"28-SE","yr":2002,"v":6.860},{"s":"28-SE","yr":2003,"v":7.026},{"s":"28-SE","yr":2004,"v":7.080},{"s":"28-SE","yr":2005,"v":6.953},{"s":"28-SE","yr":2006,"v":6.235},{"s":"28-SE","yr":2007,"v":6.492},{"s":"28-SE","yr":2008,"v":6.094},{"s":"28-SE","yr":2009,"v":6.351},{"s":"28-SE","yr":2010,"v":6.100},{"s":"28-SE","yr":2011,"v":6.541},{"s":"28-SE","yr":2012,"v":6.776},{"s":"28-SE","yr":2013,"v":6.758},{"s":"28-SE","yr":2014,"v":6.767},{"s":"28-SE","yr":2015,"v":6.671},{"s":"28-SE","yr":2016,"v":6.526},{"s":"28-SE","yr":2017,"v":6.344},{"s":"28-SE","yr":2018,"v":6.699},{"s":"28-SE","yr":2019,"v":6.064},{"s":"28-SE","yr":2020,"v":6.789},{"s":"28-SE","yr":2021,"v":6.671},
{"s":"29-SI","yr":1990,"v":7.030},{"s":"29-SI","yr":1991,"v":6.969},{"s":"29-SI","yr":1992,"v":6.948},{"s":"29-SI","yr":1993,"v":6.973},{"s":"29-SI","yr":1994,"v":6.980},{"s":"29-SI","yr":1995,"v":7.012},{"s":"29-SI","yr":1996,"v":7.012},{"s":"29-SI","yr":1997,"v":7.024},{"s":"29-SI","yr":1998,"v":6.994},{"s":"29-SI","yr":1999,"v":6.967},{"s":"29-SI","yr":2000,"v":6.944},{"s":"29-SI","yr":2001,"v":7.000},{"s":"29-SI","yr":2002,"v":6.962},{"s":"29-SI","yr":2003,"v":6.960},{"s":"29-SI","yr":2004,"v":6.973},{"s":"29-SI","yr":2005,"v":6.989},{"s":"29-SI","yr":2006,"v":6.994},{"s":"29-SI","yr":2007,"v":6.991},{"s":"29-SI","yr":2008,"v":7.037},{"s":"29-SI","yr":2009,"v":6.953},{"s":"29-SI","yr":2010,"v":6.967},{"s":"29-SI","yr":2011,"v":6.967},{"s":"29-SI","yr":2012,"v":6.937},{"s":"29-SI","yr":2013,"v":6.982},{"s":"29-SI","yr":2014,"v":7.155},{"s":"29-SI","yr":2015,"v":7.160},{"s":"29-SI","yr":2016,"v":7.191},{"s":"29-SI","yr":2017,"v":7.191},{"s":"29-SI","yr":2018,"v":7.191},{"s":"29-SI","yr":2019,"v":7.030},{"s":"29-SI","yr":2020,"v":6.987},{"s":"29-SI","yr":2021,"v":6.994},
{"s":"30-SK","yr":1990,"v":7.718},{"s":"30-SK","yr":1991,"v":7.649},{"s":"30-SK","yr":1992,"v":7.604},{"s":"30-SK","yr":1993,"v":7.563},{"s":"30-SK","yr":1994,"v":7.540},{"s":"30-SK","yr":1995,"v":7.531},{"s":"30-SK","yr":1996,"v":7.536},{"s":"30-SK","yr":1997,"v":7.540},{"s":"30-SK","yr":1998,"v":7.536},{"s":"30-SK","yr":1999,"v":7.531},{"s":"30-SK","yr":2000,"v":7.518},{"s":"30-SK","yr":2001,"v":7.531},{"s":"30-SK","yr":2002,"v":7.520},{"s":"30-SK","yr":2003,"v":7.540},{"s":"30-SK","yr":2004,"v":7.545},{"s":"30-SK","yr":2005,"v":7.550},{"s":"30-SK","yr":2006,"v":7.550},{"s":"30-SK","yr":2007,"v":7.527},{"s":"30-SK","yr":2008,"v":7.540},{"s":"30-SK","yr":2009,"v":7.500},{"s":"30-SK","yr":2010,"v":7.518},{"s":"30-SK","yr":2011,"v":7.500},{"s":"30-SK","yr":2012,"v":7.468},{"s":"30-SK","yr":2013,"v":7.454},{"s":"30-SK","yr":2014,"v":7.454},{"s":"30-SK","yr":2015,"v":7.454},{"s":"30-SK","yr":2016,"v":7.463},{"s":"30-SK","yr":2017,"v":7.481},{"s":"30-SK","yr":2018,"v":7.490},{"s":"30-SK","yr":2019,"v":7.450},{"s":"30-SK","yr":2020,"v":7.368},{"s":"30-SK","yr":2021,"v":7.441}
]},
"mark":{"type":"line","strokeJoin":"round","strokeCap":"round"},
"encoding":{
"x":{"field":"yr","type":"quantitative","scale":{"domain":[1988,2023],"nice":false,"zero":false},
"axis":{"values":[1988,1993,1998,2003,2008,2013,2018,2023],"format":"d","title":"year","grid":false,"labelFlush":false,"labelOverlap":false,
"domainColor":"#888888","domainWidth":3,"tickColor":"#888888","tickWidth":2.5,"tickSize":16,
"labelFont":"Liberation Sans","labelFontSize":50,"labelColor":"#111111","labelPadding":35,
"titleFont":"Liberation Sans","titleFontSize":44,"titleColor":"#595959","titleFontWeight":"normal","titleX":1313,"titleY":119,"titleBaseline":"alphabetic","titleAlign":"center"}},
"y":{"field":"v","type":"quantitative","scale":{"domain":[4.8,9.2],"nice":false,"zero":false},
"axis":{"values":[4.8,5.2,5.6,6.0,6.4,6.8,7.2,7.6,8.0,8.4,8.8,9.2],"format":".1f","title":"log(CO₂) [mt]","grid":true,"gridColor":"#8c8c8c","gridWidth":2.2,
"domainColor":"#888888","domainWidth":3,"tickColor":"#888888","tickWidth":2.5,"tickSize":22,
"labelFont":"Liberation Sans","labelFontSize":50,"labelColor":"#111111","labelPadding":38,"labelFlush":false,"labelOverlap":false,
"titleFont":"Liberation Sans","titleFontSize":44,"titleColor":"#595959","titleFontWeight":"normal","titleX":-198,"titleY":807,"titleAngle":-90,"titleAlign":"center","titleBaseline":"middle"}},
"color":{"field":"s","type":"nominal",
"scale":{"domain":["1-AT","2-BE","3-BG","4-CH","5-CY","6-CZ","7-DE","8-DK","9-EE","10-EL","11-ES","12-FI","13-FR","14-HR","15-HU","16-IE","17-IS","18-IT","19-LT","20-LU","21-LV","22-MT","23-NL","24-NO","25-PL","26-PT","27-RO","28-SE","29-SI","30-SK"],
"range":["#7aac48","#604a82","#c98b4e","#5c4680","#1b7c8a","#c96a27","#1c64a0","#bf4b4b","#76a046","#00d05c","#138a9e","#ee7b30","#1a10e8","#d24e4e","#78a845","#ff0000","#00a3bd","#ff8c3c","#ff00ff","#cdd65a","#9bbd62","#8e74ae","#ffff00","#7a7860","#6a9431","#cf82f2","#00e0f2","#b0a2c6","#000000","#ffb898"]},
"legend":{"orient":"none","legendX":2726,"legendY":-10,"title":null,"symbolType":"M-3,0H3","symbolSize":900,"symbolStrokeWidth":5,
"labelFont":"Liberation Sans","labelFontSize":45,"labelColor":"#111111","rowPadding":11.6,"labelOffset":36,"labelLimit":0,"padding":0}},
"strokeWidth":{"condition":[
{"test":"datum.s==='7-DE'","value":8},
{"test":"indexof(['6-CZ','17-IS'],datum.s)>=0","value":7},
{"test":"datum.s==='3-BG'","value":6},
{"test":"indexof(['18-IT','13-FR','10-EL','16-IE'],datum.s)>=0","value":5},
{"test":"indexof(['25-PL','23-NL','2-BE','4-CH','30-SK'],datum.s)>=0","value":4.2},
{"test":"indexof(['27-RO','1-AT'],datum.s)>=0","value":2.8},
{"test":"indexof(['12-FI','28-SE','21-LV'],datum.s)>=0","value":2.3}
],"value":3.4}
}
},
{
"data":{"values":[
{"t":"7","yr":1989.5,"v":9.034},{"t":"18","yr":1989.47,"v":8.704},{"t":"13","yr":1989.47,"v":8.589},{"t":"25","yr":1989.47,"v":8.466},
{"t":"11","yr":1989.53,"v":8.346},{"t":"23","yr":1989.53,"v":8.255},{"t":"6","yr":1989.44,"v":8.164},{"t":"27","yr":1989.77,"v":8.107},
{"t":"2","yr":1989.81,"v":8.034},{"t":"10","yr":1989.68,"v":7.943},{"t":"15","yr":1989.66,"v":7.848},{"t":"30","yr":1989.75,"v":7.779},
{"t":"3","yr":1990.63,"v":7.769},{"t":"26","yr":1989.57,"v":7.689},{"t":"1","yr":1991.27,"v":7.719},{"t":"4","yr":1989.84,"v":7.636},
{"t":"16","yr":1989.41,"v":7.56},{"t":"9","yr":1989.8,"v":7.523},{"t":"19","yr":1991.31,"v":7.504},{"t":"12","yr":1989.77,"v":7.442},
{"t":"24","yr":1989.79,"v":7.349},{"t":"14","yr":1989.79,"v":7.222},{"t":"20","yr":1989.77,"v":7.122},{"t":"28","yr":1989.7,"v":7.036},
{"t":"29","yr":1989.7,"v":6.962},{"t":"17","yr":1989.72,"v":6.888},{"t":"21","yr":1989.72,"v":6.739},{"t":"5","yr":1989.77,"v":6.591},
{"t":"22","yr":1989.79,"v":6.346}
]},
"mark":{"type":"text","font":"Liberation Sans Narrow, Liberation Sans","fontSize":31,"color":"#3c3c3c","align":"center","baseline":"middle"},
"encoding":{
"x":{"field":"yr","type":"quantitative"},
"y":{"field":"v","type":"quantitative"},
"text":{"field":"t","type":"nominal"}
}
}
]
}
